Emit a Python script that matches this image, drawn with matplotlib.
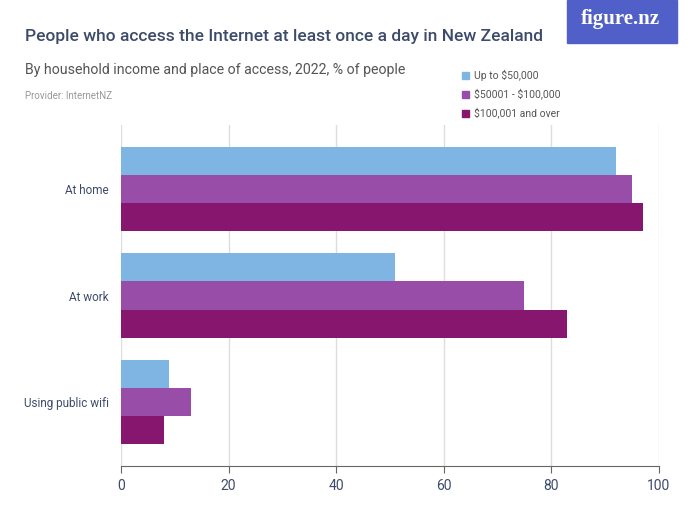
import numpy as np
import matplotlib
matplotlib.use("Agg")
import matplotlib.pyplot as plt
from matplotlib.patches import Rectangle

plt.rcParams['font.family'] = ['Roboto', 'DejaVu Sans']
plt.rcParams['text.parse_math'] = False

categories = ["At home", "At work", "Using public wifi"]
series_names = ["Up to $50,000", "$50001 - $100,000", "$100,001 and over"]
up_to_50k = [92, 51, 9]
mid_50k_100k = [95, 75, 13]
over_100k = [97, 83, 8]
colors = ["#7eb5e3", "#984ea9", "#87166e"]
xticks = [0, 20, 40, 60, 80, 100]

text_col = "#3d4b6b"

fig = plt.figure(figsize=(7, 5.25), dpi=100)
ax = fig.add_axes([0.173, 0.112, 0.768, 0.65])

y = np.arange(len(categories))
h = 0.264
for i, (vals, c) in enumerate(zip([up_to_50k, mid_50k_100k, over_100k], colors)):
    ax.barh(y + (i - 1) * h, vals, height=h, color=c, label=series_names[i], zorder=3)

ax.set_xlim(0, 100)
ax.set_ylim(2.6, -0.6)
ax.set_xticks(xticks)
ax.set_xticklabels([str(t) for t in xticks], fontsize=10, color=text_col)
ax.set_yticks(y)
ax.set_yticklabels(categories, fontsize=8.5, color=text_col)
ax.tick_params(axis='y', length=0, pad=9)
ax.tick_params(axis='x', length=5, color="#666666", pad=4)
ax.grid(axis='x', color="#dddddd", linewidth=1, zorder=0)
for s in ["top", "right", "left"]:
    ax.spines[s].set_visible(False)
ax.spines["bottom"].set_color("#666666")

fig.text(25 / 700, 1 - 37 / 525, "People who access the Internet at least once a day in New Zealand",
         fontsize=12.5, color=text_col, fontweight="medium", va="center")
fig.text(25 / 700, 1 - 70 / 525, "By household income and place of access, 2022, % of people",
         fontsize=10.2, color="#555555", va="center")
fig.text(25 / 700, 1 - 96 / 525, "Provider: InternetNZ", fontsize=7, color="#999999", va="center")

# legend
for i, name in enumerate(series_names):
    yy = 1 - (75 + i * 19) / 525
    fig.patches.append(Rectangle((462 / 700, yy - 3.5 / 525), 7 / 700, 7 / 525,
                                 transform=fig.transFigure, color=colors[i]))
    fig.text(474 / 700, yy, name, fontsize=7.5, color="#555555", va="center")

# logo
fig.patches.append(Rectangle((567 / 700, 1 - 43 / 525), 110 / 700, 43 / 525,
                             transform=fig.transFigure, color="#5060c8"))
fig.text(620 / 700, 1 - 19 / 525, "figure.nz", fontsize=15, color="white", fontweight="bold",
         family=["Liberation Serif", "DejaVu Serif"], ha="center", va="center")

fig.savefig("out.png", dpi=100)
